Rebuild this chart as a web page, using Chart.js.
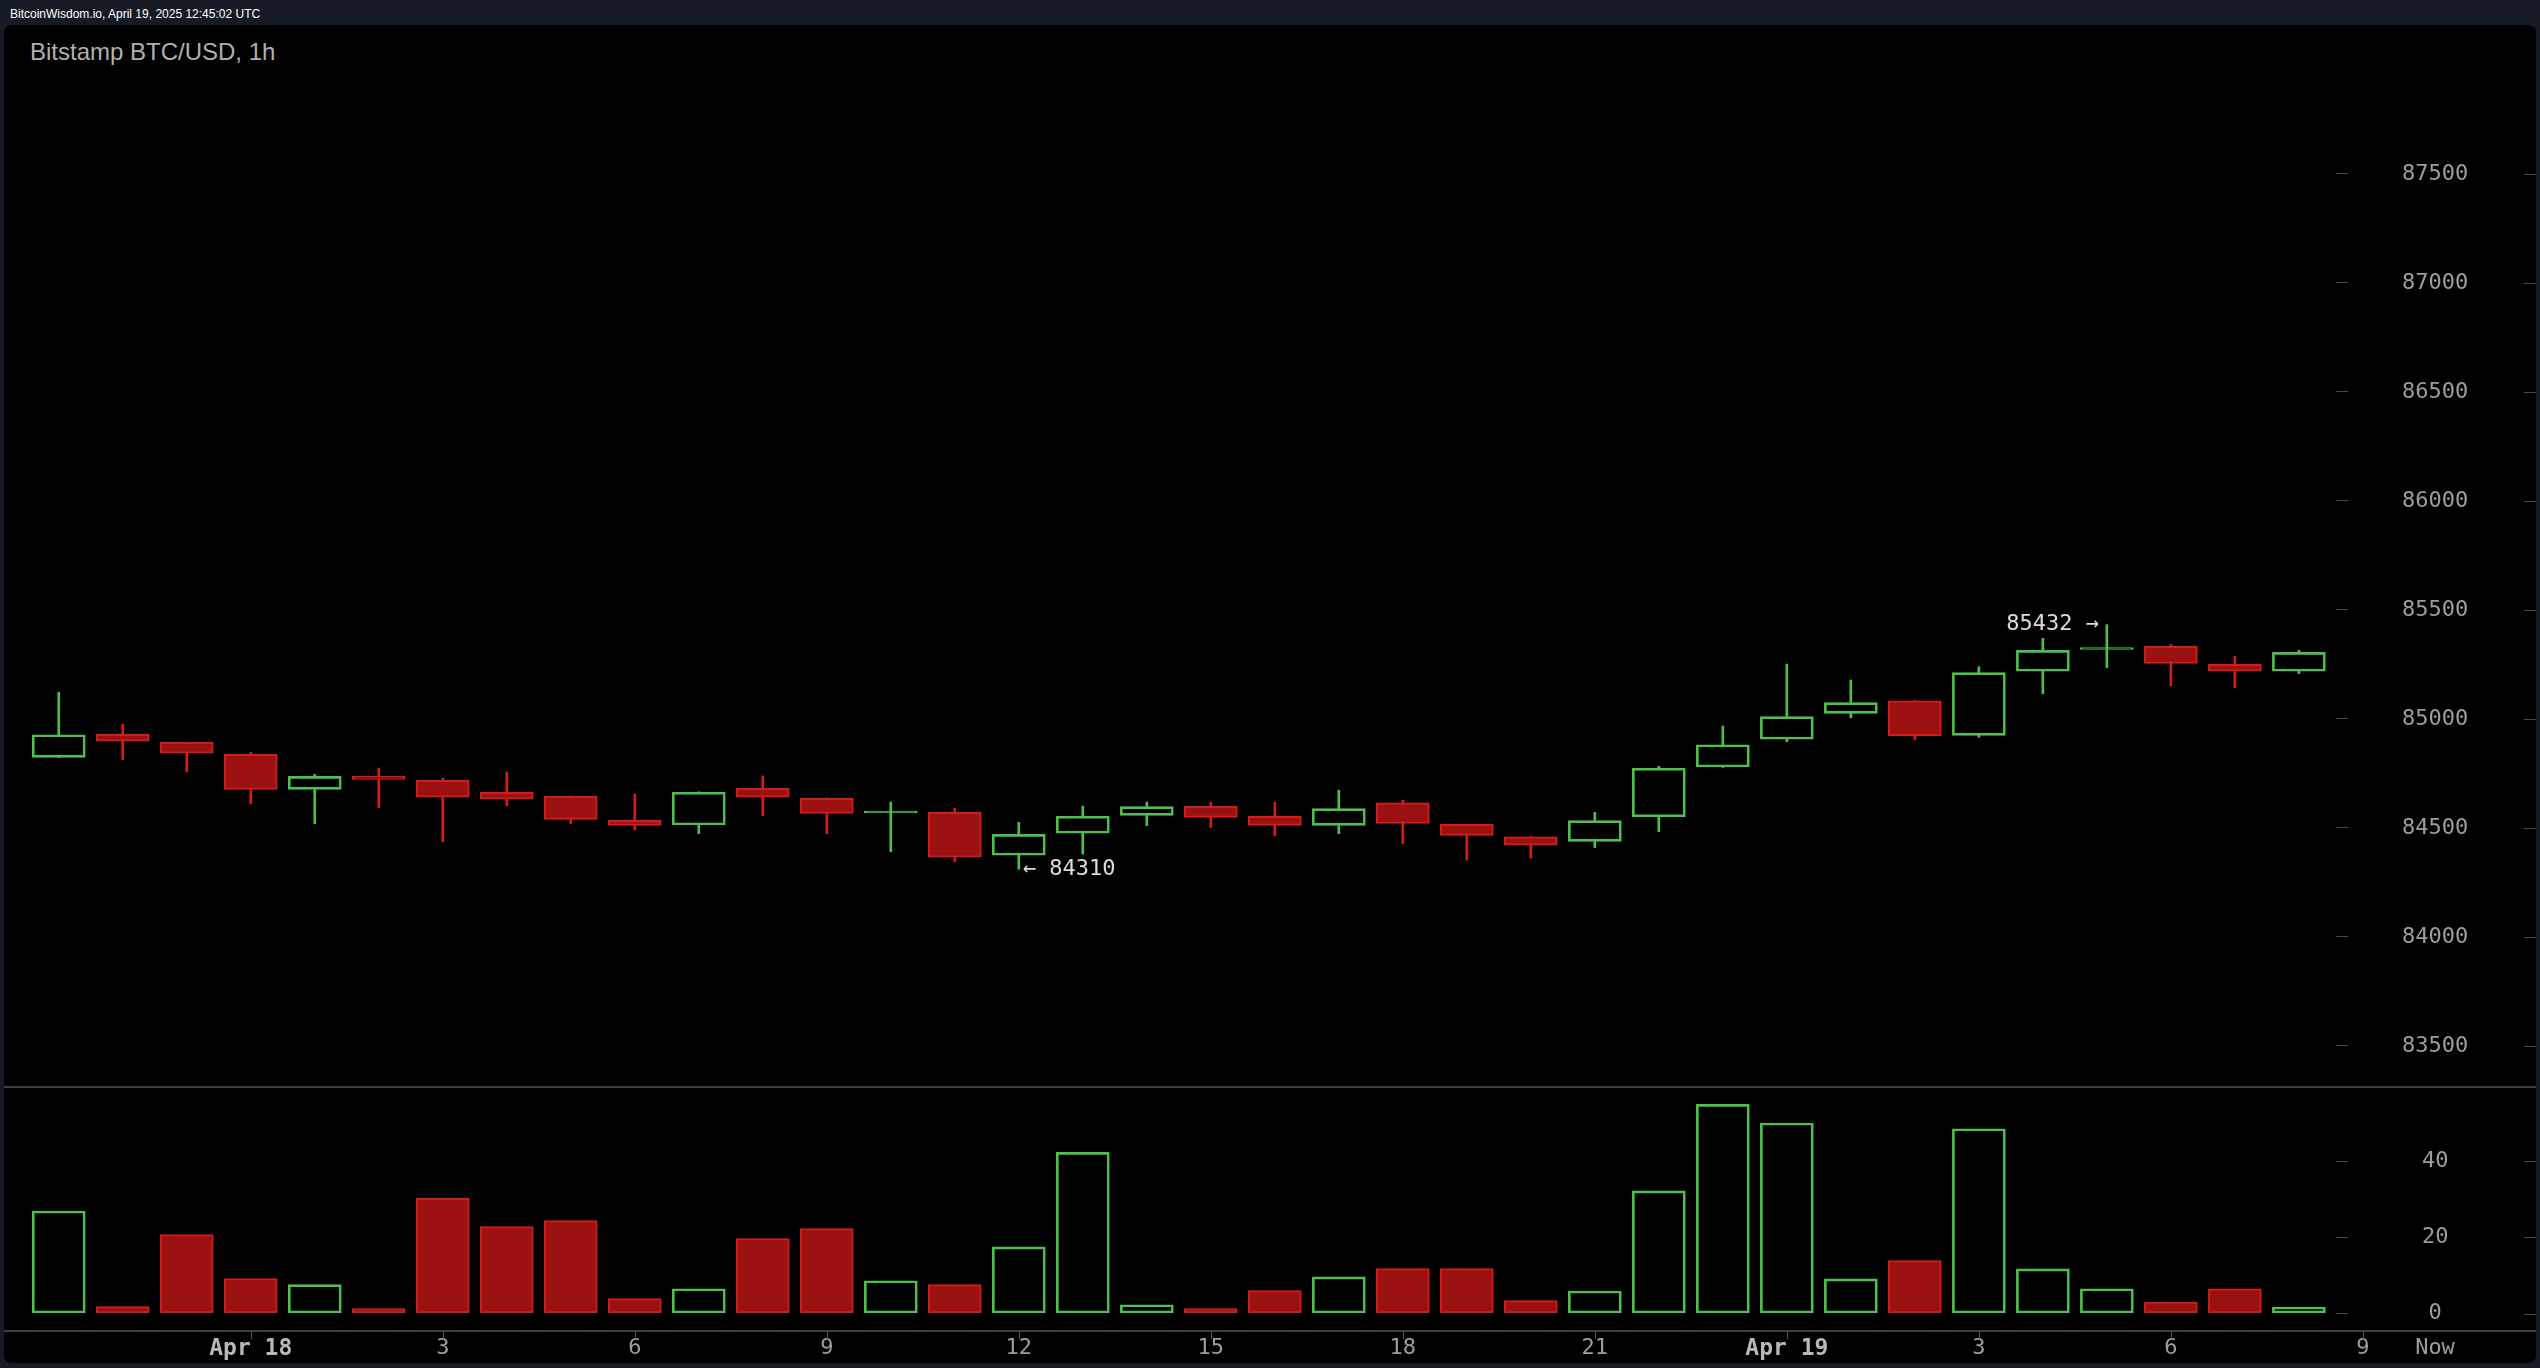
<!DOCTYPE html>
<html><head><meta charset="utf-8">
<script src="https://cdn.jsdelivr.net/npm/chart.js@4.4.1/dist/chart.umd.min.js"></script>
<style>
html,body{margin:0;padding:0;background:#151a24;width:2540px;height:1368px;overflow:hidden}
#hdr{position:absolute;left:10px;top:8px;font:12px/12px "Liberation Sans",Arial,sans-serif;color:#fff;white-space:nowrap}
#panel{position:absolute;left:4px;top:25px;width:2532px;height:1338px;background:#000;border-radius:8px}
#title{position:absolute;left:30px;top:40px;font:24px/24px "Liberation Sans",Arial,sans-serif;color:#b0b0b0;white-space:nowrap}
canvas{position:absolute;left:0}
#cp{top:0}
#cv{top:1086px}
</style></head>
<body>
<div id="hdr">BitcoinWisdom.io, April 19, 2025 12:45:02 UTC</div>
<div id="panel"></div>
<div id="title">Bitstamp BTC/USD, 1h</div>
<canvas id="cp" width="2540" height="1086"></canvas>
<canvas id="cv" width="2540" height="282"></canvas>
<script>
// ---- data (hourly candles, Bitstamp BTC/USD) ----
const hours = ['17 21h','17 22h','17 23h','18 00h','18 01h','18 02h','18 03h','18 04h','18 05h','18 06h',
  '18 07h','18 08h','18 09h','18 10h','18 11h','18 12h','18 13h','18 14h','18 15h','18 16h',
  '18 17h','18 18h','18 19h','18 20h','18 21h','18 22h','18 23h','19 00h','19 01h','19 02h',
  '19 03h','19 04h','19 05h','19 06h','19 07h','19 08h'];
const open  = [84823,84929,84892,84837,84676,84736,84718,84663,84644,84534,84513,84681,84635,84568,84571,84374,84475,84557,84598,84553,84511,84615,84516,84459,84438,84550,84779,84906,85025,85083,84924,85218,85318,85332,85250,85218];
const high  = [85121,84976,84893,84846,84745,84774,84728,84756,84646,84655,84665,84738,84637,84618,84589,84525,84600,84618,84618,84617,84673,84626,84516,84460,84571,84782,84967,85251,85178,85084,85239,85369,85432,85341,85286,85314];
const low   = [84822,84812,84757,84611,84519,84592,84436,84601,84519,84491,84473,84556,84473,84390,84345,84310,84380,84510,84501,84464,84473,84427,84352,84361,84409,84482,84777,84895,85005,84904,84915,85115,85235,85152,85143,85207];
const close = [84927,84897,84842,84676,84736,84722,84640,84631,84539,84511,84663,84640,84566,84570,84365,84470,84553,84597,84548,84511,84588,84520,84465,84420,84533,84773,84881,85010,85074,84923,85212,85314,85320,85254,85218,85305];
const volume = [26.9,1.8,20.7,9.2,7.6,1.3,30.2,22.8,24.4,3.9,6.5,19.7,22.3,8.6,7.6,17.5,42.3,2.3,1.3,6.0,9.6,11.8,11.8,3.4,5.9,32.2,54.9,50.0,9.1,13.9,48.5,11.7,6.5,3.0,6.5,1.7];
const priceTicks = [83500,84000,84500,85000,85500,86000,86500,87000,87500];
const volumeTicks = [0,20,40];
const xTickIdx = [3,6,9,12,15,18,21,24,27,30,33,36];
const xTickLabels = ['Apr 18','3','6','9','12','15','18','21','Apr 19','3','6','9'];

// ---- styles ----
const UP = '#50be50', DN_LINE = '#d11d1d', DN_FILL = '#9b1010';
const MONO = 'DejaVu Sans Mono';
const idx = hours.map((_, i) => i);
const isUp = idx.map(i => close[i] >= open[i]);
const lineCol = idx.map(i => isUp[i] ? UP : DN_LINE);
const fillCol = idx.map(i => isUp[i] ? 'rgba(0,0,0,0)' : DN_FILL);
const body = idx.map(i => ({x: i, y: [open[i], close[i]]}));
const upperWick = idx.map(i => ({x: i, y: [Math.max(open[i], close[i]), high[i]]}));
const lowerWick = idx.map(i => ({x: i, y: [low[i], Math.min(open[i], close[i])]}));
const volData = idx.map(i => ({x: i, y: volume[i]}));

const xRange = {type: 'linear', min: -0.84, max: 35.58, offset: false};

function fixY(s) { s.width = 204; s.paddingTop = 0; s.paddingBottom = 0; }
function fixX(s) { s.height = 37; s.paddingLeft = 0; s.paddingRight = 0; }

function rightDashes(chart) {
  const ctx = chart.ctx, ys = chart.scales.y;
  ctx.save();
  ctx.strokeStyle = '#4a4a4a'; ctx.lineWidth = 1;
  ctx.beginPath();
  ys.ticks.forEach(t => {
    const y = Math.round(ys.getPixelForValue(t.value)) + 0.5;
    ctx.moveTo(chart.width - 16, y); ctx.lineTo(chart.width - 4, y);
  });
  ctx.stroke();
  ctx.restore();
}

const priceDecor = {
  id: 'priceDecor',
  afterDraw(chart) {
    rightDashes(chart);
    const ctx = chart.ctx, xs = chart.scales.x, ys = chart.scales.y;
    let hi = 0, lo = 0;
    idx.forEach(i => { if (high[i] > high[hi]) hi = i; if (low[i] < low[lo]) lo = i; });
    ctx.save();
    ctx.fillStyle = '#dcdcdc';
    ctx.font = '22px "' + MONO + '"';
    ctx.textBaseline = 'middle';
    ctx.textAlign = 'left';
    ctx.fillText('\u2190 ' + low[lo], xs.getPixelForValue(lo) + 4, ys.getPixelForValue(low[lo]));
    ctx.textAlign = 'right';
    ctx.fillText(high[hi] + ' \u2192', xs.getPixelForValue(hi) - 8, ys.getPixelForValue(high[hi]));
    ctx.restore();
  }
};

const volDecor = {
  id: 'volDecor',
  afterDraw(chart) {
    rightDashes(chart);
    const ctx = chart.ctx, ca = chart.chartArea, xs = chart.scales.x, ys = chart.scales.y;
    ctx.save();
    ctx.strokeStyle = '#3e3e3e'; ctx.lineWidth = 2;
    ctx.beginPath();
    ctx.moveTo(4, 1); ctx.lineTo(2536, 1);
    ctx.moveTo(4, ca.bottom); ctx.lineTo(2536, ca.bottom);
    ctx.stroke();
    ctx.strokeStyle = '#555'; ctx.lineWidth = 1;
    ctx.beginPath();
    xTickIdx.forEach(v => {
      const x = Math.round(xs.getPixelForValue(v)) + 0.5;
      ctx.moveTo(x, ca.bottom + 1); ctx.lineTo(x, ca.bottom + 8);
    });
    ctx.stroke();
    ctx.fillStyle = '#9d9d9d';
    ctx.font = '22px "' + MONO + '"';
    ctx.textAlign = 'center'; ctx.textBaseline = 'middle';
    ctx.fillText('Now', ys.left + 99, ca.bottom + 17);
    ctx.restore();
  }
};

Chart.defaults.font.family = MONO;

new Chart(document.getElementById('cp'), {
  type: 'bar',
  data: {datasets: [
    {label: 'body', data: body, backgroundColor: fillCol, borderColor: lineCol, borderWidth: 2,
     borderSkipped: false, barThickness: 53, grouped: false, order: 0, minBarLength: 2},
    {label: 'upper', data: upperWick, backgroundColor: lineCol, borderWidth: 0, barThickness: 2, grouped: false, order: 1},
    {label: 'lower', data: lowerWick, backgroundColor: lineCol, borderWidth: 0, barThickness: 2, grouped: false, order: 1}
  ]},
  options: {
    responsive: false, animation: false, devicePixelRatio: 1,
    layout: {padding: {left: 5, top: 27, right: 0, bottom: 0}},
    plugins: {legend: {display: false}, tooltip: {enabled: false}},
    scales: {
      x: Object.assign({}, xRange, {display: false}),
      y: {
        position: 'right', min: 83315.6, max: 88173.4,
        afterBuildTicks: s => { s.ticks = priceTicks.map(v => ({value: v})); },
        afterFit: fixY,
        grid: {drawOnChartArea: false, drawTicks: true, tickLength: 12, tickColor: '#4a4a4a', tickWidth: 1},
        border: {display: false},
        ticks: {crossAlign: 'center', padding: 54, color: '#9d9d9d', font: {family: MONO, size: 22},
                callback: v => String(v)}
      }
    }
  },
  plugins: [priceDecor]
});

new Chart(document.getElementById('cv'), {
  type: 'bar',
  data: {datasets: [
    {label: 'volume', data: volData, backgroundColor: fillCol, borderColor: lineCol, borderWidth: 2,
     borderSkipped: false, barThickness: 53, grouped: false}
  ]},
  options: {
    responsive: false, animation: false, devicePixelRatio: 1,
    layout: {padding: {left: 5, top: 2, right: 0, bottom: 0}},
    plugins: {legend: {display: false}, tooltip: {enabled: false}},
    scales: {
      x: Object.assign({}, xRange, {
        position: 'bottom',
        afterBuildTicks: s => { s.ticks = xTickIdx.map(v => ({value: v})); },
        afterFit: fixX,
        grid: {drawOnChartArea: false, drawTicks: false},
        border: {display: false},
        ticks: {
          autoSkip: false, maxRotation: 0, minRotation: 0, padding: 4,
          color: c => (xTickLabels[c.index] || '').startsWith('Apr') ? '#b8b8b8' : '#9d9d9d',
          font: c => (xTickLabels[c.index] || '').startsWith('Apr') ? {family: MONO, size: 23, weight: 'bold'} : {family: MONO, size: 22},
          callback: (v, i) => xTickLabels[i]
        }
      }),
      y: {
        position: 'right', min: -4.59, max: 59.19,
        afterBuildTicks: s => { s.ticks = volumeTicks.map(v => ({value: v})); },
        afterFit: fixY,
        grid: {drawOnChartArea: false, drawTicks: true, tickLength: 12, tickColor: '#4a4a4a', tickWidth: 1},
        border: {display: false},
        ticks: {crossAlign: 'center', padding: 74, color: '#9d9d9d', font: {family: MONO, size: 22},
                callback: v => String(v)}
      }
    }
  },
  plugins: [volDecor]
});
</script>
</body></html>
